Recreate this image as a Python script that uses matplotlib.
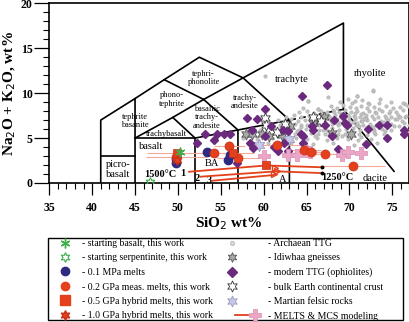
import matplotlib.pyplot as plt
from matplotlib.lines import Line2D
from matplotlib.patches import Rectangle
from matplotlib.legend_handler import HandlerTuple

plt.rcParams['font.family'] = ['Liberation Serif', 'DejaVu Serif']

# ---- data (SiO2, Na2O+K2O) ----
basalt_start_x = [50.3]
basalt_start_y = [3.4]
serp_start_x = [46.7]
serp_start_y = [0.1]

mpa_x = [49.8, 49.8, 53.4, 55.8, 56.1]
mpa_y = [2.2, 2.7, 3.5, 2.6, 3.1]

gpa02_x = [49.8, 54.2, 56.0, 57.0, 61.6, 64.7, 65.5, 67.2, 70.4]
gpa02_y = [2.9, 3.35, 4.1, 2.75, 4.2, 3.7, 3.45, 3.25, 1.9]
gpa02_xerr = [3.5, 3.0, 1.8, 2.5, 3.5, 2.0, 2.0, 3.0, 3.8]
gpa02_yerr = [0.4, 0.4, 0.6, 0.4, 0.5, 0.5, 0.4, 0.5, 0.4]

gpa05_x = [49.9, 56.4, 60.3]
gpa05_y = [3.35, 3.35, 2.0]
gpa05_xerr = [3.5, 2.5, 0.0]

gpa10_x = [49.9]
gpa10_y = [2.6]

ttg_x = [60.2, 69.8, 70.9, 71.5, 72.7, 73.6, 74.8, 76.5, 72.2, 70.3, 68.9, 67.5,
         65.2, 66.3, 67.8, 68.6, 69.3, 70.1, 70.8, 71.4, 72.0, 72.9, 73.5, 74.3, 75.1, 75.9, 76.8, 76.3,
         64.1, 65.0, 65.9, 66.7, 67.4, 68.1, 68.8, 69.5, 70.2, 70.9, 71.6, 72.3, 73.0, 73.8, 74.6, 75.4, 76.2,
         62.6, 63.5, 64.4, 65.3, 66.0, 66.9, 67.6, 68.3, 69.0, 69.8, 70.5, 71.2, 71.9, 72.6, 73.3, 74.1, 74.9, 75.7,
         61.7, 62.4, 63.2, 64.0, 64.8, 65.5, 66.2, 67.0, 67.8, 68.5, 69.2, 69.9, 70.7, 71.4, 72.1, 72.9, 73.7, 74.5, 75.3, 76.1,
         60.8, 61.9, 62.9, 63.6, 64.3, 65.1, 65.8, 66.5, 67.3, 68.0, 68.7, 69.4, 70.1, 70.8, 71.6, 72.4, 73.1, 74.0, 74.9, 75.8,
         59.6, 61.2, 62.2, 63.3, 64.1, 64.9, 65.7, 66.4, 67.2, 68.0, 68.8, 69.6, 70.4, 71.2, 72.0, 72.9, 73.8, 74.8,
         58.7, 60.4, 61.6, 62.7, 63.6, 64.6, 65.5, 66.3, 67.1, 67.9, 68.7, 69.5, 70.3, 71.1, 72.0, 73.0, 74.0,
         57.6, 59.2, 61.0, 62.4, 63.8, 65.0, 66.2, 67.4, 68.6, 69.8, 71.0, 72.5,
         60.5, 63.2, 65.8, 68.1, 70.5, 73.2, 76.8, 76.5, 77.0,
         69.1, 70.6, 71.9, 68.4, 69.7, 70.4, 71.0, 69.0, 70.0, 71.3, 68.9, 69.6, 70.9, 71.7, 72.5, 67.7,
         65.2, 66.3, 70.9, 70.7, 72.7, 64.6, 66.8, 68.2, 69.4, 70.6, 71.8, 73.1, 74.3, 75.6, 76.6,
         65.6, 67.1, 68.6, 70.0, 71.5, 72.8, 74.0, 75.2, 76.4, 63.9, 66.0, 67.5, 69.1, 70.3, 71.1,
         72.3, 73.5, 74.7, 75.9, 62.0, 64.4, 66.9, 68.4, 69.9, 71.4, 72.9, 74.2]
ttg_y = [11.9, 9.3, 9.7, 9.2, 10.2, 9.4, 9.0, 8.8, 8.9, 8.9, 9.0, 9.6,
         9.1, 8.2, 8.6, 8.4, 8.7, 8.5, 8.3, 8.6, 8.4, 8.5, 8.2, 8.6, 8.3, 8.5, 8.6, 8.9,
         7.9, 8.0, 7.8, 8.0, 7.9, 8.1, 7.9, 8.1, 7.9, 8.0, 7.8, 8.0, 7.9, 8.0, 7.8, 7.9, 8.1,
         7.4, 7.6, 7.4, 7.5, 7.6, 7.4, 7.5, 7.6, 7.4, 7.6, 7.5, 7.4, 7.6, 7.5, 7.3, 7.5, 7.4, 7.6,
         7.0, 6.9, 7.1, 6.9, 7.0, 7.1, 6.9, 7.1, 6.9, 7.1, 6.9, 7.0, 7.1, 6.9, 7.0, 7.1, 6.9, 7.0, 7.1, 6.9,
         6.6, 6.4, 6.5, 6.6, 6.4, 6.5, 6.6, 6.4, 6.5, 6.6, 6.4, 6.5, 6.6, 6.4, 6.5, 6.6, 6.4, 6.5, 6.6, 6.3,
         5.9, 6.0, 5.9, 6.1, 5.9, 6.0, 6.1, 5.9, 6.0, 6.1, 5.9, 6.0, 6.1, 5.9, 6.1, 5.9, 6.0, 5.9,
         5.6, 5.5, 5.4, 5.6, 5.5, 5.4, 5.6, 5.5, 5.4, 5.6, 5.5, 5.4, 5.6, 5.5, 5.3, 5.5, 5.4,
         5.0, 4.9, 5.0, 4.8, 5.0, 4.9, 5.0, 4.8, 5.0, 4.9, 4.8, 4.9,
         4.4, 4.5, 4.3, 4.4, 4.2, 4.4, 5.8, 7.3, 6.5,
         7.2, 7.8, 7.2, 6.8, 6.2, 6.8, 6.3, 7.7, 7.3, 7.7, 6.7, 6.7, 6.7, 7.2, 6.2, 7.2,
         9.1, 8.2, 9.7, 9.1, 10.4, 8.4, 7.65, 7.85, 7.25, 7.35, 7.15, 7.75, 7.25, 7.15, 7.45,
         6.75, 6.25, 6.75, 6.35, 6.85, 6.25, 6.75, 6.35, 6.65, 5.75, 5.25, 5.75, 5.25, 5.75, 6.3,
         8.75, 8.85, 8.05, 7.35, 6.15, 6.25, 5.85, 5.25, 5.15, 5.15, 5.65, 5.75]

idiwhaa_x = [57.9, 58.6, 59.8, 60.6, 62.1, 63.1, 65.8, 67.0, 68.0, 70.2]
idiwhaa_y = [5.4, 5.4, 5.4, 5.25, 5.3, 6.3, 6.7, 7.4, 5.6, 5.4]

modern_x = [52.2, 53.1, 54.2, 54.6, 55.4, 56.1, 56.9, 58.1, 58.6, 58.4, 58.8, 60.2, 60.2,
            60.9, 61.2, 61.7, 62.3, 62.4, 62.8, 62.8, 64.5, 64.6, 64.6, 65.6, 65.8, 67.4, 67.2,
            68.2, 68.0, 69.3, 69.5, 69.7, 68.7, 72.2, 71.9, 73.5, 74.4, 74.4, 76.4, 76.4, 59.2, 64.3]
modern_y = [4.4, 5.5, 4.8, 5.4, 5.4, 5.4, 2.2, 7.2, 5.9, 4.4, 3.9, 8.2, 5.2,
            6.3, 4.05, 3.6, 5.9, 4.4, 3.6, 5.8, 9.7, 4.5, 5.2, 6.3, 5.85, 10.95, 6.4,
            7.0, 5.2, 7.5, 6.7, 6.4, 3.75, 6.0, 4.35, 6.4, 6.5, 5.0, 5.9, 5.5, 7.1, 5.4]

crust_x = [60.2, 60.3, 61.6, 62.5, 65.8, 66.7]
crust_y = [7.2, 6.4, 5.7, 6.6, 7.35, 6.85]

mars_x = [59.4, 62.9]
mars_y = [4.25, 4.9]

mcs_x = [60.0, 62.8, 63.9, 64.9, 65.4, 69.1, 69.8, 71.3]
mcs_y = [3.0, 3.1, 3.1, 3.6, 3.45, 3.15, 3.45, 3.35]

melts1_x = [51.3, 60.3, 66.8]
melts1_y = [1.25, 1.95, 1.75]
melts2_x = [52.6, 61.5, 66.8]
melts2_y = [0.7, 1.3, 1.1]
melts3_x = [54.0, 61.3]
melts3_y = [0.25, 0.9]

# TAS field boundaries
tas_lines = [
    ([41, 41, 45, 45], [0, 7, 9.4, 0]),
    ([41, 45], [3, 3]),
    ([45, 52, 52], [5, 5, 0]),
    ([45, 49.4, 52], [5, 7.3, 5]),
    ([52, 57, 57], [5, 5.9, 0]),
    ([57, 63, 63], [5.9, 7, 0]),
    ([49.4, 53, 57], [7.3, 9.3, 5.9]),
    ([45, 48.4, 53], [9.4, 11.5, 9.3]),
    ([48.4, 52.5, 57.6, 63], [11.5, 14, 11.7, 7]),
    ([53, 57.6, 69.3, 69.3], [9.3, 11.7, 17.8, 8.2]),
    ([69.3, 75.2], [8.2, 1.3]),
]
dashed_line = ([63, 69.3], [7, 8.2])

RED = '#e3401b'
ERR = '#f3a898'

fig = plt.figure(figsize=(4.10, 3.22), dpi=100)
ax = fig.add_axes([0.1202, 0.4317, 0.8785, 0.558])

for xs, ys in tas_lines:
    ax.plot(xs, ys, color='black', lw=1.2, zorder=2)
ax.plot(*dashed_line, color='black', lw=1.2, ls=(0, (4, 2)), zorder=2)

ax.plot(ttg_x, ttg_y, 'o', ms=2.4, mfc='#c4c4c4', mec='#a8a8a8', mew=0.4, zorder=3)

# error bars
ax.errorbar(gpa02_x, gpa02_y, xerr=gpa02_xerr, yerr=gpa02_yerr, fmt='none',
            ecolor=ERR, elinewidth=0.8, zorder=3)
ax.errorbar(gpa05_x, gpa05_y, xerr=gpa05_xerr, fmt='none', ecolor=ERR, elinewidth=0.8, zorder=3)
ax.errorbar(mcs_x, mcs_y, yerr=0.5, fmt='none', ecolor='#f2c4d6', elinewidth=0.7, zorder=3)

# model paths
for xs, ys in [(melts1_x, melts1_y), (melts2_x, melts2_y), (melts3_x, melts3_y)]:
    ax.plot(xs, ys, color=RED, lw=1.3, zorder=4)
ax.plot([melts1_x[-1], melts2_x[-1]], [melts1_y[-1], melts2_y[-1]], ls='none', marker='o',
        ms=1.8, color='black', zorder=4)
ax.plot([61.3, 61.5, 61.2], [1.7, 1.3, 0.95], ls='none', marker='>', ms=4, mfc='none',
        mec=RED, mew=1.0, zorder=4)

ax.plot(idiwhaa_x, idiwhaa_y, ls='none', marker=(6, 1, 0), ms=8, mfc='#a9a9a9', mec='#555555',
        mew=0.6, zorder=5)
ax.plot(crust_x, crust_y, ls='none', marker=(6, 1, 0), ms=8, mfc='white', mec='#333333',
        mew=0.6, zorder=5)
ax.plot(mars_x, mars_y, ls='none', marker=(6, 1, 0), ms=9, mfc='#c7c8e8', mec='#9a9bc0',
        mew=0.6, zorder=5)
ax.plot(modern_x, modern_y, ls='none', marker='D', ms=4.5, mfc='#6c2a7e', mec='#6c2a7e', zorder=6)
ax.plot(mcs_x, mcs_y, ls='none', marker='P', ms=8, mfc='#eba6c6', mec='#d98cb2', mew=0.5, zorder=6)
ax.plot(mpa_x, mpa_y, ls='none', marker='o', ms=6, mfc='#2f2a80', mec='#2f2a80', zorder=7)
ax.plot(gpa02_x, gpa02_y, ls='none', marker='o', ms=6.5, mfc=RED, mec='#c8301a', mew=0.5, zorder=7)
ax.plot(gpa05_x, gpa05_y, ls='none', marker='s', ms=6, mfc=RED, mec='#c8301a', mew=0.5, zorder=7)
ax.plot(gpa10_x, gpa10_y, ls='none', marker=(6, 1, 0), ms=7, mfc=RED, mec='#c8301a', zorder=7)
ax.plot(basalt_start_x, basalt_start_y, ls='none', marker=(6, 2, 0), ms=7, mec='#3cae4a',
        mew=1.0, zorder=8)
ax.plot(serp_start_x, serp_start_y, ls='none', marker=(6, 1, 0), ms=7, mfc='none', mec='#3cae4a',
        mew=0.8, zorder=8)

# field names
big = 7.5
small = 6
ax.text(43, 1.5, 'picro-\nbasalt', fontsize=big, ha='center', va='center', linespacing=1.1)
ax.text(45.4, 4.1, 'basalt', fontsize=big, ha='left', va='center')
ax.text(48.6, 5.45, 'trachybasalt', fontsize=small, ha='center', va='center')
ax.text(45.0, 6.9, 'tephrite\nbasanite', fontsize=small, ha='center', va='center', linespacing=1.1)
ax.text(49.3, 9.3, 'phono-\ntephrite', fontsize=small, ha='center', va='center', linespacing=1.1)
ax.text(53.0, 11.7, 'tephri-\nphonolite', fontsize=small, ha='center', va='center', linespacing=1.1)
ax.text(53.4, 7.3, 'basaltic\ntrachy-\nandesite', fontsize=small, ha='center', va='center',
        linespacing=1.1)
ax.text(57.8, 9.0, 'trachy-\nandesite', fontsize=small, ha='center', va='center', linespacing=1.1)
ax.text(63.3, 11.5, 'trachyte', fontsize=big, ha='center', va='center')
ax.text(72.4, 12.2, 'rhyolite', fontsize=big, ha='center', va='center')
ax.text(54.0, 2.2, 'BA', fontsize=big, ha='center', va='center')
ax.text(62.2, 0.4, 'A', fontsize=big, ha='center', va='center')
ax.text(73.0, 0.55, 'dacite', fontsize=big, ha='center', va='center')
ax.text(48.0, 0.9, '1500°C', fontsize=big, fontweight='bold', ha='center', va='center')
ax.text(68.6, 0.6, '1250°C', fontsize=big, fontweight='bold', ha='center', va='center')
ax.text(50.6, 1.05, '1', fontsize=big, fontweight='bold', ha='center', va='center')
ax.text(52.3, 0.55, '2', fontsize=big, fontweight='bold', ha='center', va='center')
ax.text(53.7, 0.25, '3', fontsize=big, fontweight='bold', ha='center', va='center')

ax.set_xlim(35, 77)
ax.set_ylim(0, 20)
ax.set_xticks([35, 40, 45, 50, 55, 60, 65, 70, 75])
ax.set_xticks(range(35, 78), minor=True)
ax.set_yticks([0, 5, 10, 15, 20])
ax.set_yticks(range(0, 21), minor=True)
ax.tick_params(axis='x', which='major', direction='out', length=8.5, width=0.9,
               labelsize=8.5, pad=5)
ax.tick_params(axis='y', which='major', direction='out', length=11, width=0.9,
               labelsize=8.5, pad=1)
ax.tick_params(axis='both', which='minor', direction='out', length=4.5, width=0.8)
for lab in ax.get_xticklabels() + ax.get_yticklabels():
    lab.set_fontweight('bold')
for sp in ax.spines.values():
    sp.set_linewidth(1.2)
ax.set_xlabel('SiO$_2$ wt%', fontsize=11, fontweight='bold', labelpad=1)
ax.set_ylabel('Na$_2$O + K$_2$O, wt%', fontsize=11, fontweight='bold', labelpad=2)

# legend: two columns drawn separately inside one frame
def mk(**kw):
    return Line2D([], [], ls='none', **kw)

blank = mk(marker='')
col1_handles = [
    mk(marker=(6, 2, 0), ms=7, mec='#3cae4a', mew=1.0),
    mk(marker=(6, 1, 0), ms=7, mfc='none', mec='#3cae4a', mew=0.8),
    mk(marker='o', ms=6, mfc='#2f2a80', mec='#2f2a80'),
    mk(marker='o', ms=6, mfc=RED, mec=RED),
    mk(marker='s', ms=6.5, mfc=RED, mec=RED),
    mk(marker=(6, 1, 0), ms=7, mfc=RED, mec='#c8301a'),
]
col1_labels = [
    '- starting basalt, this work',
    '- starting serpentinite, this work',
    '- 0.1 MPa melts',
    '- 0.2 GPa meas. melts, this work',
    '- 0.5 GPa hybrid melts, this work',
    '- 1.0 GPa hybrid melts, this work',
]
col2_handles = [
    (mk(marker='o', ms=3, mfc='#d8d8d8', mec='#b0b0b0', mew=0.5), blank),
    (mk(marker=(6, 1, 0), ms=7, mfc='#a9a9a9', mec='#555555', mew=0.6), blank),
    (mk(marker='D', ms=5, mfc='#6c2a7e', mec='#6c2a7e'), blank),
    (mk(marker=(6, 1, 0), ms=8, mfc='white', mec='#333333', mew=0.6), blank),
    (mk(marker=(6, 1, 0), ms=8, mfc='#c7c8e8', mec='#9a9bc0', mew=0.6), blank),
    (blank, Line2D([], [], color=RED, lw=1.3),
     mk(marker='P', ms=8, mfc='#eba6c6', mec='#d98cb2', mew=0.5)),
]
col2_labels = [
    '- Archaean TTG',
    '- Idiwhaa gneisses',
    '- modern TTG (ophiolites)',
    '- bulk Earth continental crust',
    '- Martian felsic rocks',
    '- MELTS & MCS modeling',
]
common = dict(loc='upper left', fontsize=7, frameon=False, borderpad=0, borderaxespad=0,
              labelspacing=0.56)
fig.legend(col1_handles, col1_labels, bbox_to_anchor=(0.141, 0.258),
           handlelength=1.45, handletextpad=1.0, **common)
fig.legend(col2_handles, col2_labels, bbox_to_anchor=(0.541, 0.258),
           handlelength=4.1, handletextpad=0.6,
           handler_map={tuple: HandlerTuple(ndivide=None, pad=0)}, **common)
fig.patches.append(Rectangle((0.117, 0.006), 0.866, 0.255, transform=fig.transFigure,
                             fill=False, edgecolor='black', lw=1.0))

fig.savefig('out.png', dpi=100)
